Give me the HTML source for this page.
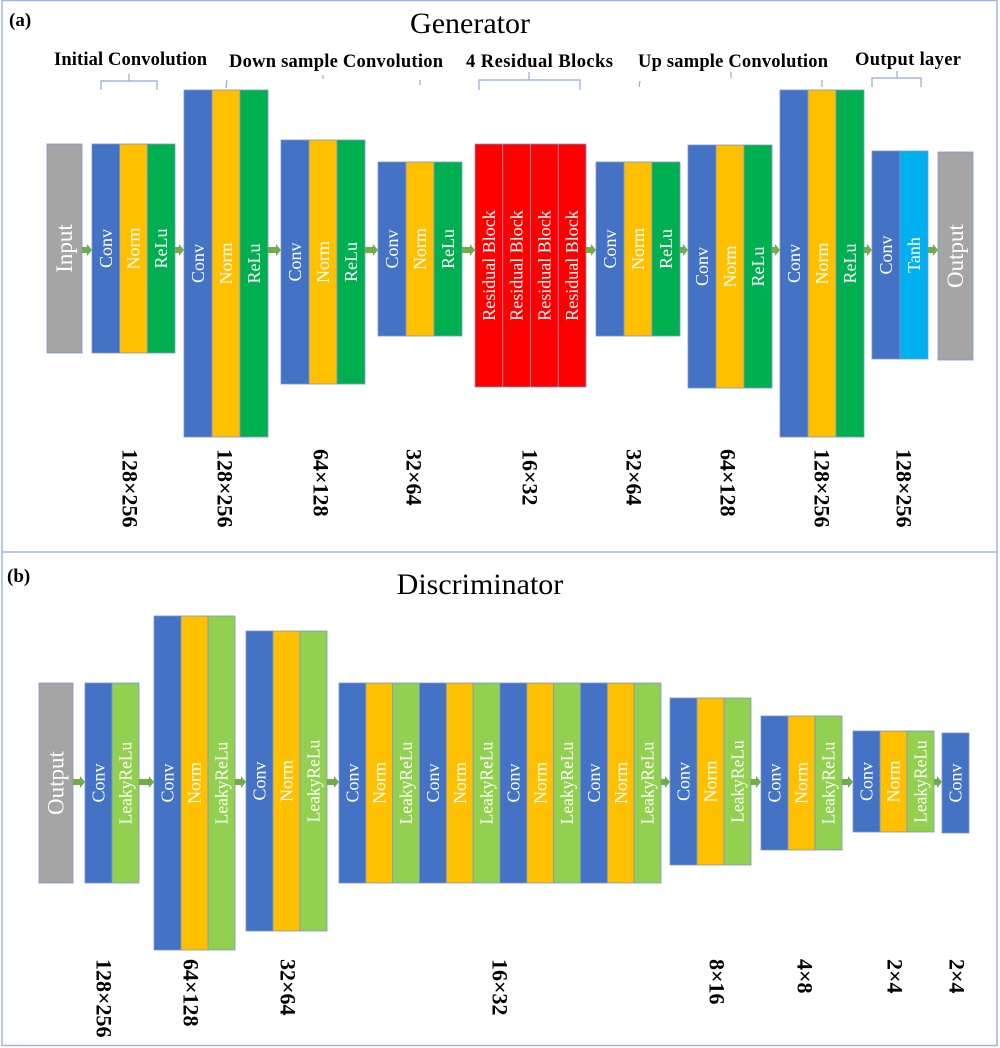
<!DOCTYPE html>
<html><head><meta charset="utf-8">
<style>
html,body{margin:0;padding:0;background:#fff;}
svg{display:block;}
text{font-family:"Liberation Serif",serif;}
</style></head>
<body>
<svg id="fig" width="1000" height="1048" viewBox="0 0 1000 1048" xmlns="http://www.w3.org/2000/svg">
  <rect x="2" y="0.5" width="995" height="1045" fill="none" stroke="#9fb6e0" stroke-width="1.5"/>
  <line x1="2" y1="552" x2="997" y2="552" stroke="#9fb6e0" stroke-width="1.5"/>
  <text x="9" y="26" font-size="19" font-weight="bold">(a)</text>
  <text x="470" y="33" font-size="30" text-anchor="middle">Generator</text>
  <text x="7" y="582" font-size="19" font-weight="bold">(b)</text>
  <text x="480" y="594" font-size="30" text-anchor="middle">Discriminator</text>
  <g id="heads" font-size="18.5" font-weight="bold">
    <text x="54" y="65" textLength="153">Initial Convolution</text>
    <text x="229" y="67" textLength="214">Down sample Convolution</text>
    <text x="466" y="67" textLength="147">4 Residual Blocks</text>
    <text x="638" y="67" textLength="190">Up sample Convolution</text>
    <text x="855" y="65" textLength="106">Output layer</text>
  </g>
  <g fill="none" stroke="#8faadc" stroke-width="1.2">
    <path d="M101,90 V81 H157 V90 M129,81 V74"/>
    <path d="M479,90 V80 H580 V90 M529,80 V72"/>
    <path d="M872,87 V78 H921 V87 M897,78 V71"/>
    <path d="M227,80 L226,88"/>
    <path d="M323,75 V79"/>
    <path d="M420,80 V85"/>
    <path d="M640,81 L639,87"/>
    <path d="M731,72 V78"/>
    <path d="M822,80 V87"/>
  </g>
  <g id="blocks"></g>
  <g id="arrows"></g>
  <g id="sizes"></g>
</svg>
<script>
// Colour names per layer type
const layerColors = {Conv:'#4472c4',Norm:'#ffc000',ReLu:'#00b050',LeakyReLu:'#92d050',Res:'#ff0000',Tanh:'#00b0f0',IO:'#a5a5a5'};
// Generator blocks: [x, y, width, height, layers]
const genBlocks = [
  [47,144,35,209,['IO:Input']],
  [92,144,83,209,['Conv','Norm','ReLu']],
  [184,90,84,347,['Conv','Norm','ReLu']],
  [281,140,84,244,['Conv','Norm','ReLu']],
  [378,162,84,174,['Conv','Norm','ReLu']],
  [475,144,111,243,['Res','Res','Res','Res']],
  [596,162,84,174,['Conv','Norm','ReLu']],
  [688,145,84,243,['Conv','Norm','ReLu']],
  [780,90,84,347,['Conv','Norm','ReLu']],
  [872,151,56,208,['Conv','Tanh']],
  [938,152,35,208,['IO:Output']]
];
const genSizes = ['128×256','128×256','64×128','32×64','16×32','32×64','64×128','128×256','128×256'];
const genSizeX = [130,225,321,414,530,634,728,822,904];
const discBlocks = [
  [39,683,34,200,['IO:Output']],
  [85,683,54,200,['Conv','LeakyReLu']],
  [154,616,81,334,['Conv','Norm','LeakyReLu']],
  [246,631,81,300,['Conv','Norm','LeakyReLu']],
  [339,683,322,200,['Conv','Norm','LeakyReLu','Conv','Norm','LeakyReLu','Conv','Norm','LeakyReLu','Conv','Norm','LeakyReLu']],
  [670,698,81,167,['Conv','Norm','LeakyReLu']],
  [761,716,81,134,['Conv','Norm','LeakyReLu']],
  [853,731,81,101,['Conv','Norm','LeakyReLu']],
  [942,733,27,100,['Conv']]
];
const discSizes = ['128×256','64×128','32×64','16×32','8×16','4×8','2×4','2×4'];
const discSizeX = [104,191,288,500,717,805,895,957];

const NS='http://www.w3.org/2000/svg';
const gB=document.getElementById('blocks'),gA=document.getElementById('arrows'),gS=document.getElementById('sizes');
function mk(tag,attrs,parent){const e=document.createElementNS(NS,tag);for(const k in attrs)e.setAttribute(k,attrs[k]);parent.appendChild(e);return e;}

function drawBlocks(blocks,prefix){
  blocks.forEach((b,i)=>{
    const [x,y,w,h,layers]=b;
    const g=mk('g',{},gB);
    
    
    const sw=w/layers.length;
    layers.forEach((L,j)=>{
      let type=L,label=L;
      if(L.startsWith('IO:')){type='IO';label=L.slice(3);}
      if(L==='Res')label='Residual Block';
      const r=mk('rect',{x:x+j*sw,y:y,width:sw,height:h,fill:layerColors[type],stroke:'#7f96c8','stroke-width':0.8},g);
      
      
      const cx=x+j*sw+sw/2, cy=y+h/2;
      const fs=type==='IO'?23:(type==='LeakyReLu'?17.5:18);
      const t=mk('text',{x:cx,y:cy,fill:'#fff','font-size':fs,'text-anchor':'middle','dominant-baseline':'central',transform:'rotate(-90 '+cx+' '+cy+')'},g);
      
      
      t.textContent=label;
    });
  });
}
function drawArrows(blocks,prefix,ay){
  for(let i=0;i<blocks.length-1;i++){
    const x1=blocks[i][0]+blocks[i][2], x2=blocks[i+1][0];
    const p=mk('path',{d:`M${x1},${ay-3} H${x2-5} V${ay-6} L${x2},${ay} L${x2-5},${ay+6} V${ay+3} H${x1} Z`,fill:'#70ad47'},gA);
    
    
  }
}
function drawSizes(sizes,xs,prefix,top){
  sizes.forEach((s,i)=>{
    const x=xs[i];
    const t=mk('text',{x:x,y:top,'font-size':22,'font-weight':'bold','dominant-baseline':'central',transform:'rotate(90 '+x+' '+top+')'},gS);
    
    
    t.textContent=s;
  });
}
drawBlocks(genBlocks,'generator');
drawArrows(genBlocks,'generator',250);
drawSizes(genSizes,genSizeX,'generator',449);
drawBlocks(discBlocks,'discriminator');
drawArrows(discBlocks,'discriminator',782);
drawSizes(discSizes,discSizeX,'discriminator',959);
</script>
</body></html>
